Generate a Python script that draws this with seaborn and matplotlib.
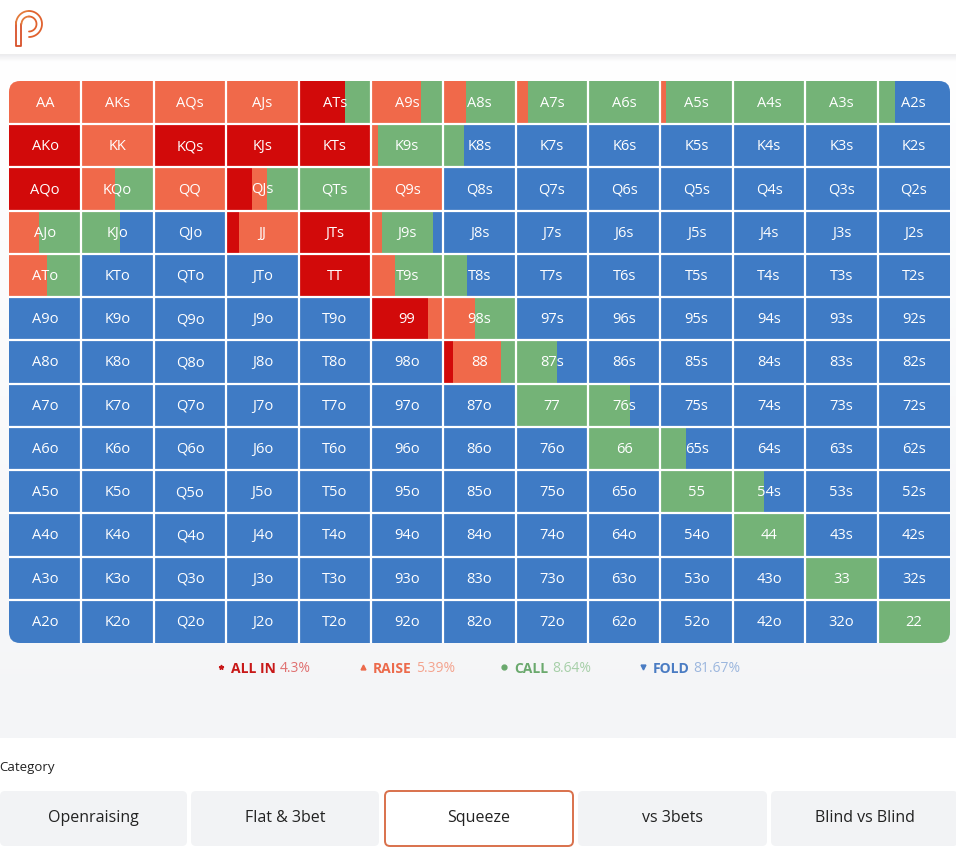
import numpy as np
import pandas as pd
import matplotlib
matplotlib.use("Agg")
import matplotlib.pyplot as plt
import seaborn as sns
from matplotlib.patches import FancyBboxPatch

# ---- data ----
ranks = ["A", "K", "Q", "J", "T", "9", "8", "7", "6", "5", "4", "3", "2"]
actions = ["allin", "raise", "call", "fold"]

allin_freq = {"ATs": 0.64, "AKo": 1.0, "KQs": 1.0, "KJs": 1.0, "KTs": 1.0,
              "AQo": 1.0, "QJs": 0.36, "JJ": 0.18, "JTs": 1.0, "TT": 1.0,
              "99": 0.79, "88": 0.14}
raise_freq = {"AA": 1.0, "AKs": 1.0, "AQs": 1.0, "AJs": 1.0, "A9s": 0.69,
              "A8s": 0.31, "A7s": 0.17, "A5s": 0.07, "KK": 1.0, "K9s": 0.10,
              "KQo": 0.46, "QQ": 1.0, "QJs": 0.21, "Q9s": 1.0, "AJo": 0.41,
              "JJ": 0.82, "J9s": 0.15, "ATo": 0.52, "T9s": 0.33, "99": 0.21,
              "98s": 0.44, "88": 0.66}
call_freq = {"ATs": 0.36, "A9s": 0.31, "A8s": 0.69, "A7s": 0.83, "A6s": 1.0,
             "A5s": 0.93, "A4s": 1.0, "A3s": 1.0, "A2s": 0.24, "K9s": 0.90,
             "K8s": 0.29, "KQo": 0.54, "QJs": 0.43, "QTs": 1.0, "AJo": 0.59,
             "KJo": 0.53, "J9s": 0.71, "ATo": 0.48, "T9s": 0.67, "T8s": 0.33,
             "98s": 0.56, "88": 0.20, "87s": 0.57, "77": 1.0, "76s": 0.58,
             "66": 1.0, "65s": 0.35, "55": 1.0, "54s": 0.43, "44": 1.0,
             "33": 1.0, "22": 1.0}

legend_names = ["ALL IN", "RAISE", "CALL", "FOLD"]
legend_pcts = ["4.3%", "5.39%", "8.64%", "81.67%"]
categories = ["Openraising", "Flat & 3bet", "Squeeze", "vs 3bets", "Blind vs Blind"]
selected_category = "Squeeze"

colors = {"allin": "#d20a0a", "raise": "#f0694a", "call": "#74b377", "fold": "#3f7bc5"}
label_colors = ["#c81818", "#ec6a4b", "#6aa96d", "#4a7cc3"]
pct_colors = ["#e07070", "#f4a38e", "#a6cfa8", "#9cb7de"]
marker_shapes = ["*", "^", "o", "v"]


def hand_name(r, c):
    if r == c:
        return ranks[r] * 2
    if c > r:
        return ranks[r] + ranks[c] + "s"
    return ranks[c] + ranks[r] + "o"


rows = []
for r in range(13):
    for c in range(13):
        h = hand_name(r, c)
        fr = [allin_freq.get(h, 0), raise_freq.get(h, 0), call_freq.get(h, 0)]
        fr.append(max(0.0, 1 - sum(fr)))
        left = 0.0
        for act, w in zip(actions, fr):
            if w > 0:
                rows.append(dict(hand=h, row=r, col=c, action=act, left=left, width=w))
            left += w
segs = pd.DataFrame(rows)

# ---- figure ----
sns.set_theme(style="white")
plt.rcParams["font.family"] = ["Open Sans", "DejaVu Sans"]
W, H = 956, 849
fig = plt.figure(figsize=(W / 100, H / 100), dpi=100)
fig.patch.set_facecolor("white")

# page gradient below header
bg = fig.add_axes([0, 1 - 738 / H, 1, (738 - 55) / H])
grad = np.linspace(0, 1, 256).reshape(-1, 1)
bg.imshow(grad, aspect="auto", cmap=matplotlib.colors.LinearSegmentedColormap.from_list(
    "g", ["#ffffff", "#f4f5f7"]), extent=[0, 1, 1, 0])
bg.axis("off")

# header shadow
sh = fig.add_axes([0, 1 - 62 / H, 1, 8 / H])
sh.imshow(np.linspace(0, 1, 32).reshape(-1, 1), aspect="auto",
          cmap=matplotlib.colors.LinearSegmentedColormap.from_list("s", ["#e9e9ec", "#ffffff"]),
          extent=[0, 1, 1, 0], alpha=0.9)
sh.axis("off")

# logo (outlined P)
lg = fig.add_axes([10 / W, 1 - 50 / H, 40 / W, 48 / H])
lg.set_xlim(0, 40)
lg.set_ylim(48, 0)
lg.axis("off")
theta = np.linspace(-np.pi / 2, np.pi / 2 + 0.01, 60)
lg.plot(19 + 13 * np.cos(theta), 22 - 13 * np.sin(theta), color="#e0622f", lw=1.3)
lg.plot(19 + 7.5 * np.cos(theta), 22 - 7.5 * np.sin(theta), color="#e0622f", lw=1.3)
lg.plot([6, 6, 11, 11], [20, 44, 44, 22], color="#d8502a", lw=1.3)
arc = np.linspace(np.pi, 1.5 * np.pi, 30)
lg.plot(19 + 13 * np.cos(arc), 22 + 13 * np.sin(arc), color="#e37a3a", lw=1.3)
lg.plot(19 + 7.5 * np.cos(arc), 22 + 7.5 * np.sin(arc), color="#e37a3a", lw=1.3)

# range grid
ax = fig.add_axes([9 / W, 1 - 643 / H, 941 / W, 562 / H])
ax.set_xlim(0, 13)
ax.set_ylim(13, 0)
ax.axis("off")
clip = FancyBboxPatch((9 / 100, (H - 643) / 100), 941 / 100, 562 / 100,
                      boxstyle="round,pad=0,rounding_size=0.11",
                      transform=fig.dpi_scale_trans, facecolor="none", edgecolor="none")
fig.add_artist(clip)
for act in actions:
    d = segs[segs.action == act]
    bars = ax.barh(d.row + 0.5, d.width, left=d.col + d.left, height=1.0,
                   color=colors[act], linewidth=0)
    for b in bars:
        b.set_clip_path(clip)
for k in range(1, 13):
    ax.axvline(k, color="white", lw=1.6)
    ax.axhline(k, color="white", lw=1.6)
for r in range(13):
    for c in range(13):
        ax.text(c + 0.5, r + 0.52, hand_name(r, c), ha="center", va="center",
                color="white", fontsize=10.5)

# legend
leg_x = [221, 363, 504, 643]
for i in range(4):
    x = leg_x[i]
    y = 1 - 669 / H
    fig.add_artist(plt.Line2D([x / W], [y + 0.002], marker=marker_shapes[i], ms=3.5,
                              color=label_colors[i], transform=fig.transFigure, lw=0))
    t = fig.text((x + 10) / W, y, legend_names[i], color=label_colors[i],
                 fontsize=10, fontweight="bold", va="center", ha="left")
    fig.canvas.draw()
    bb = t.get_window_extent()
    fig.text((bb.x1 + 4) / W, y, legend_pcts[i], color=pct_colors[i],
             fontsize=10, va="center", ha="left")

# category selector
fig.text(-1 / W, 1 - 768 / H, "Category", fontsize=9.5, color="#222222", va="center")
btn_x = [(0, 187), (191, 379), (385, 573), (578, 767), (771, 958)]
for (x0, x1), name in zip(btn_x, categories):
    sel = name == selected_category
    p = FancyBboxPatch((x0 / 100, (H - 846) / 100), (x1 - x0) / 100, 55 / 100,
                       boxstyle="round,pad=0,rounding_size=0.05",
                       transform=fig.dpi_scale_trans,
                       facecolor="white" if sel else "#f2f3f5",
                       edgecolor="#d9714c" if sel else "none", lw=1.4 if sel else 0)
    fig.add_artist(p)
    fig.text((x0 + x1) / 2 / W, 1 - 818 / H, name, ha="center", va="center",
             fontsize=11.5, color="#222222")

fig.savefig("out.png", dpi=100)
